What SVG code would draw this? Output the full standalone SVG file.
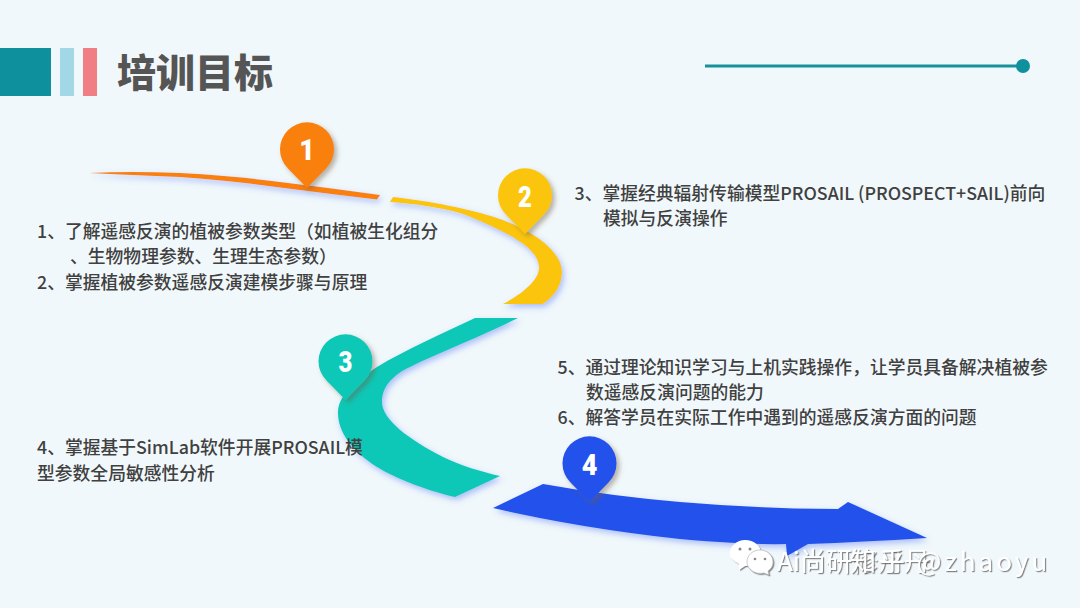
<svg xmlns="http://www.w3.org/2000/svg" width="1080" height="608" viewBox="0 0 1080 608">
<style>
.t{font-family:"Noto Sans CJK SC","Noto Sans",sans-serif;font-size:17.8px;font-weight:500;fill:#404040}
.n{font-family:"Roboto","Noto Sans",sans-serif;font-size:30px;font-weight:900;fill:#fff;text-anchor:middle}
.w{font-family:"Noto Sans CJK SC","Noto Sans",sans-serif;font-size:26px;fill:#fff;filter:url(#ws)}
.r{filter:url(#rs)}
.p{filter:url(#ps)}
</style>
<defs>
<filter id="rs" x="-10%" y="-20%" width="120%" height="150%"><feDropShadow dx="2" dy="3" stdDeviation="3" flood-color="#3d63f0" flood-opacity=".4"/></filter>
<filter id="ps" x="-30%" y="-30%" width="170%" height="170%"><feDropShadow dx="3" dy="3" stdDeviation="2.500" flood-color="#6b5a45" flood-opacity=".45"/></filter>
<filter id="ws" x="-5%" y="-20%" width="110%" height="150%"><feDropShadow dx="1.200" dy="1.200" stdDeviation=".6" flood-color="#555" flood-opacity=".7"/></filter>
<path id="pin" d="M0 39 L-19 19.500 A27 27 0 1 1 19 19.500 Z"/>
</defs>
<rect width="1080" height="608" fill="#f1f8fb"/>
<g id="header">
<rect x="0" y="48" width="51" height="48" fill="#0e919c"/>
<rect x="60" y="48" width="14" height="48" fill="#a2d7e6"/>
<rect x="83" y="48" width="14" height="48" fill="#f07f85"/>
<text x="117" y="87" font-family="'Noto Sans CJK SC',sans-serif" font-size="39" font-weight="900" fill="#555">培训目标</text>
<line x1="705" y1="66" x2="1023" y2="66" stroke="#17919b" stroke-width="3"/>
<circle cx="1023" cy="66" r="7" fill="#0e919c"/>
</g>
<g id="connectors">
<path class="r" fill="#f98008" d="M89 173 Q130 171 180 173 Q235 176 280 182 Q330 188 380 195 L377 199.500 Q330 194 280 187.500 Q235 181 180 177 Q130 175 89 173Z"/>
<path class="r" fill="#fcc507" d="M390 202 L393 197 C430 201 470 209 497 218 C530 229 562 250 562 272 C562 285 555 296 543 304 L503 304 C522 294 539 280 539 268 C539 257 530 250 527 247 C510 233 480 221 463 214 C440 207 415 204 390 202Z"/>
<path class="r" fill="#10c8b6" d="M475 318 L518 318 C480 337 440 352 410 367 C395 374 382 385 382 402 C382 420 410 440 443 457 C462 466 482 472 500 476 L455 497 C425 490 395 478 377 467 C352 451 338 432 338 413 C338 395 355 382 377 367 C405 350 445 332 475 318Z"/>
<path class="r" fill="#2251ec" d="M493 508 L543 484 Q610 496 680 502 Q760 509 838 509 L848 502 L927 538 Q860 542 808 544 L787 556 L786 544 Q750 545 680 539 Q580 528 493 508Z"/>
</g>
<g id="node1"><use href="#pin" x="307" y="149" class="p" fill="#f98008"/><text class="n" transform="translate(307 160) scale(.9 1)">1</text></g>
<g id="node2"><use href="#pin" x="525" y="195" class="p" fill="#fcc507"/><text class="n" transform="translate(525 207) scale(.8 1)">2</text></g>
<g id="node3"><use href="#pin" x="345.500" y="361" class="p" fill="#10c8b6"/><text class="n" transform="translate(345.500 372) scale(.8 1)">3</text></g>
<g id="node4"><use href="#pin" x="589.500" y="463" class="p" fill="#2251ec"/><text class="n" transform="translate(589.500 475) scale(.9 1)">4</text></g>
<g id="text1">
<text class="t" x="37" y="237.500">1、了解遥感反演的植被参数类型（如植被生化组分</text>
<text class="t" x="70" y="262.500">、生物物理参数、生理生态参数）</text>
<text class="t" x="37" y="288.500">2、掌握植被参数遥感反演建模步骤与原理</text>
</g>
<g id="text2">
<text class="t" x="574.500" y="199.500">3、掌握经典辐射传输模型PROSAIL (PROSPECT+SAIL)前向</text>
<text class="t" x="603" y="224.500">模拟与反演操作</text>
</g>
<g id="text3">
<text class="t" x="37" y="453.500">4、掌握基于SimLab软件开展PROSAIL模</text>
<text class="t" x="37" y="479.500">型参数全局敏感性分析</text>
</g>
<g id="text4">
<text class="t" x="557.500" y="373.500">5、通过理论知识学习与上机实践操作，让学员具备解决植被参</text>
<text class="t" x="586" y="398.500">数遥感反演问题的能力</text>
<text class="t" x="557.500" y="423.500">6、解答学员在实际工作中遇到的遥感反演方面的问题</text>
</g>
<g id="watermark">
<g filter="url(#ws)">
<path fill="#fff" d="M745 540 C754 540 761 546 761 553 C761 560 754 566 745 566 L739 570 L739 564 C734 561 730 558 730 553 C730 546 737 540 745 540Z"/>
<path fill="#fff" stroke="#aaa" stroke-width=".6" d="M760 550 C767 550 773 555 773 562 C773 566 771 569 768 571 L769 575 L764 573 C755 575 747 569 747 562 C747 555 753 550 760 550Z"/>
<g fill="#888"><circle cx="740" cy="549" r="1.500"/><circle cx="750" cy="549" r="1.500"/><circle cx="755" cy="559" r="1.300"/><circle cx="765" cy="559" r="1.300"/></g>
</g>
<text class="w" x="777" y="571">Ai尚研修丹丹</text>
<text class="w" x="850" y="571" letter-spacing="3">知乎 @zhaoyu</text>
</g>
</svg>
